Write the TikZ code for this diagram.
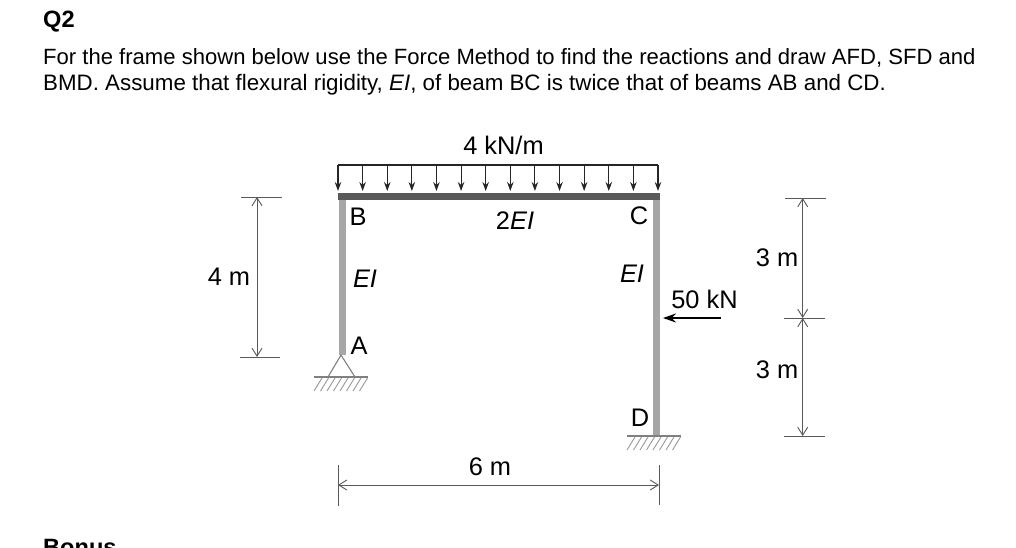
\documentclass[tikz,border=0pt]{standalone}
\usepackage{fontspec}
\setmainfont{Liberation Sans}
\usetikzlibrary{arrows.meta}
\tikzset{
  body/.style={inner sep=0pt,anchor=base west,font=\fontsize{22.07}{26}\selectfont},
  bodywide/.style={inner sep=0pt,anchor=base west,font=\fontsize{22.34}{26}\selectfont},
  headbold/.style={inner sep=0pt,anchor=base west,font=\fontsize{23.6}{28}\selectfont\bfseries},
  lbl/.style={inner sep=0pt,font=\fontsize{25.4}{30}\selectfont},
  dimline/.style={draw=black!65,line width=0.9pt},
  dimarrow/.style={draw=black!65,line width=0.9pt,{Straight Barb[length=8pt,width=10pt]}-{Straight Barb[length=8pt,width=10pt]}},
  loadline/.style={draw=black!85,line width=1.1pt},
  loadarrow/.style={draw=black!85,line width=1.1pt,-{Stealth[length=9pt,width=6.5pt]}},
  beam/.style={draw=black!65,line width=7pt},
  column/.style={draw=black!35,line width=7pt},
  support/.style={draw=black!50,line width=1.1pt},
  hatchline/.style={draw=black!40,line width=0.9pt},
  force/.style={draw=black,line width=2pt,-{Stealth[length=13pt,width=9pt]}},
}
\begin{document}
\begin{tikzpicture}[x=1pt,y=-1pt]
\useasboundingbox (0,0) rectangle (1016,548);
\clip (0,0) rectangle (1016,548);
\fill[white] (0,0) rectangle (1016,548);
% heading text
\node[headbold] (q) at (43,28) {Q2};
\node[body] (l1) at (43,65) {For the frame shown below use the Force Method to find the reactions and draw AFD, SFD and};
\node[bodywide] (l2) at (43,91) {BMD. Assume that flexural rigidity, \textit{EI}, of beam BC is twice that of beams AB and CD.};
\node[headbold] (bonus) at (43,555) {Bonus};
% frame points
\coordinate (Bj) at (338,196.5);
\coordinate (Cj) at (660,196.5);
\coordinate (Atop) at (342,197);
\coordinate (Abot) at (342,355);
\coordinate (Dtop) at (656.5,197);
\coordinate (Dbot) at (656.5,435);
\draw[column] (Atop) -- (Abot);
\draw[column] (Dtop) -- (Dbot);
\draw[beam] (Bj) -- (Cj);
% distributed load
\coordinate (La) at (338,165);
\coordinate (Lb) at (658,165);
\draw[loadline] (La) -- (Lb);
\foreach \i in {0,...,13} {
  \coordinate (lt\i) at (338+24.615*\i,165);
  \coordinate (lb\i) at (338+24.615*\i,191);
  \draw[loadarrow] (lt\i) -- (lb\i);
}
% pin at A
\coordinate (pinTop) at (341,355);
\coordinate (pinL) at (328,377);
\coordinate (pinR) at (355,377);
\draw[support,line join=round] (pinL) -- (pinTop) -- (pinR);
\coordinate (gAl) at (314,377);
\coordinate (gAr) at (368,377);
\draw[support] (gAl) -- (gAr);
\foreach \i in {0,...,7} \draw[hatchline] (322+6.5*\i,378) -- (314+6.5*\i,391);
% fixed at D
\coordinate (gDl) at (627,436);
\coordinate (gDr) at (681,436);
\draw[support] (gDl) -- (gDr);
\foreach \i in {0,...,7} \draw[hatchline] (635+6.5*\i,437) -- (627+6.5*\i,450);
% left dimension
\coordinate (d1a) at (241,197); \coordinate (d1b) at (282,197);
\coordinate (d2a) at (240,357); \coordinate (d2b) at (280,357);
\coordinate (d1) at (257,197); \coordinate (d2) at (257,357);
\draw[dimline] (d1a) -- (d1b);
\draw[dimline] (d2a) -- (d2b);
\draw[dimarrow] (d1) -- (d2);
% right dimension
\coordinate (r1a) at (785,198); \coordinate (r1b) at (826,198);
\coordinate (r2a) at (784,318); \coordinate (r2b) at (825,318);
\coordinate (r3a) at (784,436); \coordinate (r3b) at (825,436);
\coordinate (r1) at (802.7,198); \coordinate (r2) at (802.7,318); \coordinate (r3) at (802.7,436);
\draw[dimline] (r1a) -- (r1b);
\draw[dimline] (r2a) -- (r2b);
\draw[dimline] (r3a) -- (r3b);
\draw[dimarrow] (r1) -- (r2);
\draw[dimarrow] (r2) -- (r3);
% bottom dimension
\coordinate (b1a) at (338,465); \coordinate (b1b) at (338,506);
\coordinate (b2a) at (659,465); \coordinate (b2b) at (659,505);
\coordinate (b1) at (338,485); \coordinate (b2) at (659,485);
\draw[dimline] (b1a) -- (b1b);
\draw[dimline] (b2a) -- (b2b);
\draw[dimarrow] (b1) -- (b2);
% 50 kN
\coordinate (fa) at (721,318); \coordinate (fb) at (663,318);
\draw[force] (fa) -- (fb);
% labels
\node[lbl] (load) at (503.5,145) {4 kN/m};
\node[lbl] (ei2) at (515,221) {2\textit{EI}};
\node[lbl] (B) at (358,217) {B};
\node[lbl] (C) at (639,216) {C};
\node[lbl] (A) at (359,346) {A};
\node[lbl] (D) at (640,418) {D};
\node[lbl] (eil) at (365,279) {\textit{EI}};
\node[lbl] (eir) at (632,274) {\textit{EI}};
\node[lbl] (f) at (704.5,299) {50 kN};
\node[lbl] (m4) at (229,277) {4 m};
\node[lbl] (m3a) at (777,258) {3 m};
\node[lbl] (m3b) at (777,370) {3 m};
\node[lbl] (m6) at (490,467) {6 m};
\end{tikzpicture}
\end{document}
